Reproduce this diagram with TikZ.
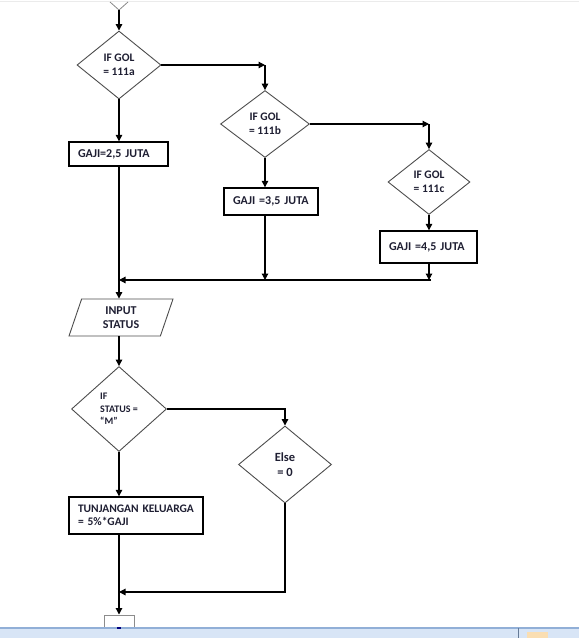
\documentclass[tikz,border=0pt]{standalone}
\usepackage{fontspec}
\setmainfont{Carlito}
\usetikzlibrary{shapes.geometric,arrows.meta}

\definecolor{txt}{RGB}{30,30,50}
\definecolor{barline}{RGB}{145,175,215}
\definecolor{barfill}{RGB}{216,229,246}
\definecolor{tabfill}{RGB}{250,222,178}

\tikzset{
  decision/.style={diamond, draw=black!70, line width=0.9pt, inner sep=0pt,
    align=center, text=txt, font=\bfseries\fontsize{11.5}{13.5}\selectfont},
  process/.style={rectangle, draw=black, line width=1.4pt, inner xsep=9pt,
    inner ysep=0pt, align=left, text=txt, font=\bfseries\fontsize{12}{14}\selectfont},
  inputbox/.style={trapezium, trapezium left angle=60, trapezium right angle=120,
    trapezium stretches body, draw=black!70, line width=0.9pt, inner sep=0pt,
    align=center, text=txt, font=\bfseries\fontsize{12}{14}\selectfont},
  flow/.style={line width=1.2pt, -{Triangle[length=6.5pt,width=6.5pt]}},
}

\begin{document}
\begin{tikzpicture}[x=1pt,y=-1pt]
	\useasboundingbox (0,0) rectangle (579,638);
	\draw[black!8] (0,1.5) -- (579,1.5);

	% salary branch
	\node[decision, minimum width=84pt, minimum height=68pt] (gol1) at (119,65) {IF GOL\\= 111a};
	\node[decision, minimum width=89pt, minimum height=67pt] (gol2) at (265,124) {IF GOL\\= 111b};
	\node[decision, minimum width=82pt, minimum height=65pt] (gol3) at (429,182) {IF GOL\\= 111c};
	\node[process, text width=81pt, minimum height=24pt] (gaji1) at (118.5,154) {GAJI=2,5 JUTA};
	\node[process, text width=76pt, minimum height=27pt] (gaji2) at (271,201.5) {GAJI =3,5 JUTA};
	\node[process, text width=79pt, minimum height=32pt] (gaji3) at (428.5,247) {GAJI =4,5 JUTA};

	% status branch
	\node[inputbox, minimum width=104pt, minimum height=37pt] (input) at (121,317.5) {INPUT\\STATUS};
	\node[decision, minimum width=95pt, minimum height=85pt, align=left,
		font=\bfseries\fontsize{10}{12.5}\selectfont] (status) at (119,409) {IF\\STATUS =\\“M”};
	\node[decision, minimum width=93pt, minimum height=77pt,
		font=\bfseries\fontsize{12.5}{15}\selectfont] (else) at (285,464.5) {Else\\= 0};
	\node[process, text width=116pt, minimum height=37pt,
		font=\bfseries\fontsize{11.5}{13.5}\selectfont] (tunj) at (136,515.5) {\mbox{TUNJANGAN KELUARGA}\\= 5\%*GAJI};
	\node[rectangle, draw=black!45, line width=1pt, minimum width=30pt, minimum height=30pt] (next) at (119,630) {};

	\coordinate (entry) at (119,10);
	\coordinate (join1) at (431,280);
	\coordinate (join2) at (119,592);

	% connectors
	\draw[black!45, line width=0.8pt] (110,2) -- (entry) -- (128,2);
	\draw[flow] (entry) -- (gol1.north);
	\draw[flow] (gol1.east) -- (gol2.north |- gol1.east);
	\draw[flow] (gol2.north |- gol1.east) -- (gol2.north);
	\draw[flow] (gol2.east) -- (gol3.north |- gol2.east);
	\draw[flow] (gol3.north |- gol2.east) -- (gol3.north);
	\draw[flow] (gol1.south) -- (gol1.south |- gaji1.north);
	\draw[flow] (gol2.south) -- (gol2.south |- gaji2.north);
	\draw[flow] (gol3.south) -- (gol3.south |- gaji3.north);
	\draw[flow] (gaji2.south -| gol2) -- (gol2 |- join1);
	\draw[flow] (gaji3.south -| gol3) -- (gol3 |- join1);
	\draw[flow] (join1) -- (gol1 |- join1);
	\draw[flow] (gaji1.south -| gol1) -- (gol1 |- input.north);
	\draw[flow] (input.south -| status) -- (status.north);
	\draw[flow] (status.east) -- (else.north |- status.east) -- (else.north);
	\draw[flow] (status.south) -- (status.south |- tunj.north);
	\draw[flow] (tunj.south -| status) -- (next.north);
	\draw[flow] (else.south) |- (join2);

	% status bar
	\fill[barfill] (0,628) rectangle (579,638);
	\draw[barline, line width=1.5pt] (0,628) -- (579,628);
	\draw[barline!70!black, line width=0.8pt] (518,628) -- (518,638);
	\fill[tabfill] (527,632) rectangle (548,638);
	\fill[blue!50!black] (117,626.5) rectangle (121,628.5);
\end{tikzpicture}
\end{document}
